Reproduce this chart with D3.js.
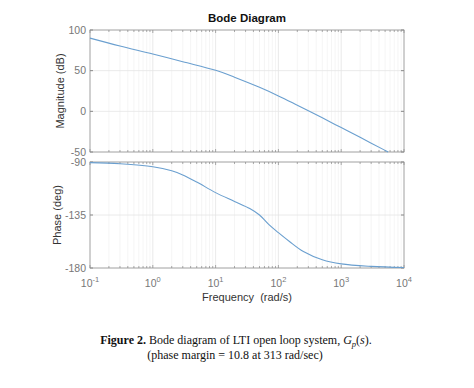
<!DOCTYPE html>
<html><head><meta charset="utf-8">
<script src="https://cdn.jsdelivr.net/npm/d3@7/dist/d3.min.js"></script>
<style>body{margin:0;background:#fff}svg{display:block}</style>
</head><body>
<svg id="c" width="474" height="388"></svg>
<script>
// Data
const magFreq = [0.1, 0.3, 1, 3, 10, 20, 50, 100, 200, 500, 1000, 2000, 5000, 5600];
const magDb   = [90, 80.3, 70.5, 61, 50.5, 42, 29.5, 19, 7.5, -8, -20, -32, -48, -50];
const phFreq  = [0.1, 0.3, 1, 2, 3, 5, 10, 20, 35, 50, 70, 100, 150, 250, 500, 1000, 3000, 10000];
const phDeg   = [-90.5, -91.5, -94, -97.5, -101, -107, -116, -123.5, -129.5, -135, -143, -150, -157.5, -166, -173, -176.5, -178.6, -179.6];
const xTicks  = [0.1, 1, 10, 100, 1000, 10000];
const xTickExp = ["-1", "0", "1", "2", "3", "4"];
const magTicks = [100, 50, 0, -50];
const phTicks  = [-90, -135, -180];

const svg = d3.select("#c");
const L = 90, R = 404;
const x = d3.scaleLog().domain([0.1, 10000]).range([L, R]);
const yM = d3.scaleLinear().domain([-50, 100]).range([152, 30]);
const yP = d3.scaleLinear().domain([-180, -90]).range([268, 162]);

const minor = [];
for (let e = -1; e < 4; e++) for (let k = 2; k <= 9; k++) minor.push(k * Math.pow(10, e));

function panel(y, ticks, top, bottom) {
  const g = svg.append("g");
  g.selectAll(".mg").data(minor).enter().append("line")
    .attr("x1", d => x(d)).attr("x2", d => x(d)).attr("y1", top).attr("y2", bottom)
    .attr("stroke", "#f0f0f0").attr("stroke-width", 0.7);
  g.selectAll(".Mg").data(xTicks).enter().append("line")
    .attr("x1", d => x(d)).attr("x2", d => x(d)).attr("y1", top).attr("y2", bottom)
    .attr("stroke", "#e4e4e4").attr("stroke-width", 0.8);
  g.selectAll(".hg").data(ticks).enter().append("line")
    .attr("x1", L).attr("x2", R).attr("y1", d => y(d)).attr("y2", d => y(d))
    .attr("stroke", "#e4e4e4").attr("stroke-width", 0.8);
  g.append("rect").attr("x", L).attr("y", top).attr("width", R - L).attr("height", bottom - top)
    .attr("fill", "none").attr("stroke", "#9a9a9a").attr("stroke-width", 0.8);
  const tk = (data, len) => {
    g.selectAll(null).data(data).enter().append("line")
      .attr("x1", d => x(d)).attr("x2", d => x(d)).attr("y1", bottom).attr("y2", bottom - len)
      .attr("stroke", "#8a8a8a").attr("stroke-width", 0.7);
    g.selectAll(null).data(data).enter().append("line")
      .attr("x1", d => x(d)).attr("x2", d => x(d)).attr("y1", top).attr("y2", top + len)
      .attr("stroke", "#8a8a8a").attr("stroke-width", 0.7);
  };
  tk(minor, 2); tk(xTicks, 3);
  g.selectAll(null).data(ticks).enter().append("line")
    .attr("x1", L).attr("x2", L + 3).attr("y1", d => y(d)).attr("y2", d => y(d)).attr("stroke", "#8a8a8a");
  g.selectAll(null).data(ticks).enter().append("line")
    .attr("x1", R).attr("x2", R - 3).attr("y1", d => y(d)).attr("y2", d => y(d)).attr("stroke", "#8a8a8a");
  g.selectAll(null).data(ticks).enter().append("text")
    .attr("x", L - 4).attr("y", d => y(d)).attr("dy", "0.35em").attr("text-anchor", "end")
    .attr("font-family", "Liberation Sans, Arial, sans-serif").attr("font-size", 10.5)
    .attr("fill", "#777").text(d => d);
  return g;
}

panel(yM, magTicks, 30, 152);
panel(yP, phTicks, 162, 268);

const line = (ys) => d3.line().curve(d3.curveCatmullRom.alpha(0.5)).x(d => x(d[0])).y(d => ys(d[1]));
svg.append("path").datum(magFreq.map((f, i) => [f, magDb[i]]))
  .attr("d", line(yM)).attr("fill", "none").attr("stroke", "#6a9fcf").attr("stroke-width", 1.1);
svg.append("path").datum(phFreq.map((f, i) => [f, phDeg[i]]))
  .attr("d", line(yP)).attr("fill", "none").attr("stroke", "#6a9fcf").attr("stroke-width", 1.1);

const xl = svg.selectAll(".xl").data(xTicks).enter().append("text")
  .attr("x", (d) => x(d)).attr("y", 287).attr("text-anchor", "middle")
  .attr("font-family", "Liberation Sans, Arial, sans-serif").attr("font-size", 10.5).attr("fill", "#777");
xl.append("tspan").text("10");
xl.append("tspan").attr("dy", -5).attr("font-size", 7.5).text((d, i) => xTickExp[i]);

const sans = "Liberation Sans, Arial, sans-serif";
svg.append("text").attr("x", 247).attr("y", 22).attr("text-anchor", "middle")
  .attr("font-family", sans).attr("font-size", 11.5).attr("font-weight", "bold").attr("fill", "#111").text("Bode Diagram");
svg.append("text").attr("transform", "translate(64,91) rotate(-90)").attr("text-anchor", "middle")
  .attr("font-family", sans).attr("font-size", 11).attr("fill", "#333").text("Magnitude (dB)");
svg.append("text").attr("transform", "translate(61,215) rotate(-90)").attr("text-anchor", "middle")
  .attr("font-family", sans).attr("font-size", 11).attr("fill", "#333").text("Phase (deg)");
svg.append("text").attr("x", 247).attr("y", 301).attr("text-anchor", "middle").attr("xml:space", "preserve")
  .attr("font-family", sans).attr("font-size", 11).attr("fill", "#333").text("Frequency  (rad/s)");

const serif = "Liberation Serif, Times New Roman, serif";
const c1 = svg.append("text").attr("x", 236).attr("y", 344).attr("text-anchor", "middle")
  .attr("font-family", serif).attr("font-size", 12).attr("fill", "#111");
c1.append("tspan").attr("font-weight", "bold").text("Figure 2.");
c1.append("tspan").text(" Bode diagram of LTI open loop system, ");
c1.append("tspan").attr("font-style", "italic").text("G");
c1.append("tspan").attr("font-style", "italic").attr("font-size", 8.5).attr("dy", 2.5).text("p");
c1.append("tspan").attr("dy", -2.5).text("(");
c1.append("tspan").attr("font-style", "italic").text("s");
c1.append("tspan").text(").");
svg.append("text").attr("x", 235).attr("y", 359).attr("text-anchor", "middle")
  .attr("font-family", serif).attr("font-size", 12).attr("fill", "#111")
  .text("(phase margin = 10.8 at 313 rad/sec)");
</script>
</body></html>
